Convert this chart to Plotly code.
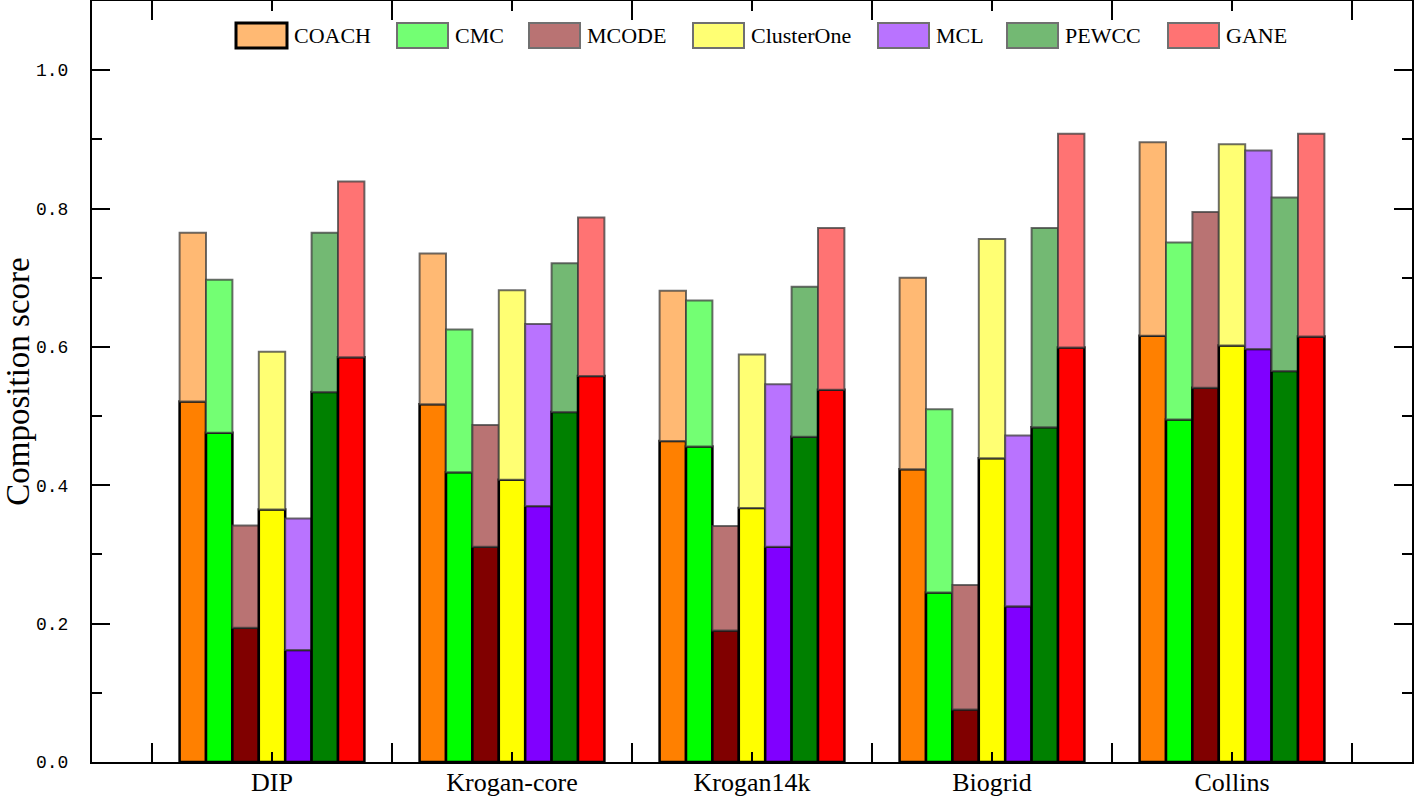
import numpy as np
import plotly.graph_objects as go

categories = ["DIP", "Krogan-core", "Krogan14k", "Biogrid", "Collins"]
methods = ["COACH", "CMC", "MCODE", "ClusterOne", "MCL", "PEWCC", "GANE"]

# lower (solid) part of each bar
coach_low = [0.521, 0.517, 0.464, 0.423, 0.616]
cmc_low = [0.476, 0.419, 0.456, 0.245, 0.495]
mcode_low = [0.194, 0.311, 0.190, 0.076, 0.541]
clusterone_low = [0.365, 0.408, 0.367, 0.439, 0.602]
mcl_low = [0.162, 0.370, 0.311, 0.225, 0.597]
pewcc_low = [0.535, 0.506, 0.470, 0.484, 0.565]
gane_low = [0.585, 0.558, 0.538, 0.599, 0.615]

# total height of each bar (composition score)
coach_total = [0.765, 0.735, 0.681, 0.700, 0.896]
cmc_total = [0.697, 0.625, 0.667, 0.510, 0.751]
mcode_total = [0.342, 0.487, 0.341, 0.256, 0.795]
clusterone_total = [0.593, 0.682, 0.589, 0.756, 0.893]
mcl_total = [0.352, 0.633, 0.546, 0.472, 0.884]
pewcc_total = [0.765, 0.721, 0.687, 0.772, 0.816]
gane_total = [0.839, 0.787, 0.772, 0.908, 0.908]

y_ticks = [0.0, 0.2, 0.4, 0.6, 0.8, 1.0]

lows = [coach_low, cmc_low, mcode_low, clusterone_low, mcl_low, pewcc_low, gane_low]
totals = [coach_total, cmc_total, mcode_total, clusterone_total, mcl_total, pewcc_total, gane_total]

solid_colors = ["#FF8000", "#00FF00", "#800000", "#FFFF00", "#8000FF", "#008000", "#FF0000"]
light_colors = ["#FFB973", "#73FF73", "#B97373", "#FFFF73", "#B973FF", "#73B973", "#FF7373"]

W, H = 1414, 797
ML, MR, MT, MB = 92, 2, 1, 35

x_idx = list(range(len(categories)))
fig = go.Figure()
for i, m in enumerate(methods):
    low = np.array(lows[i])
    tot = np.array(totals[i])
    fig.add_trace(go.Bar(
        x=x_idx, y=low, name=m, offsetgroup=m,
        marker=dict(color=solid_colors[i], line=dict(color="black", width=2.5)),
        showlegend=False,
    ))
    fig.add_trace(go.Bar(
        x=x_idx, y=tot - low, base=low, name=m, offsetgroup=m,
        marker=dict(color=light_colors[i], line=dict(color="rgba(60,60,60,0.75)", width=2)),
        showlegend=False,
    ))

# custom legend (large swatches like the reference)
box_px = [236, 397, 529, 693, 878, 1007, 1168]
pw = W - ML - MR
ph = H - MT - MB
def px2x(px):
    return (px - ML) / pw
def py2y(py):
    return (H - MB - py) / ph

shapes = []
annotations = []
for i, m in enumerate(methods):
    x0 = box_px[i]
    shapes.append(dict(
        type="rect", xref="paper", yref="paper",
        x0=px2x(x0), x1=px2x(x0 + 51), y0=py2y(48), y1=py2y(23),
        fillcolor=light_colors[i],
        line=dict(color="black" if i == 0 else "#707070", width=3 if i == 0 else 2),
        layer="above",
    ))
    annotations.append(dict(
        xref="paper", yref="paper", x=px2x(x0 + 56), y=py2y(36),
        text=m, showarrow=False, xanchor="left", yanchor="middle",
        font=dict(family="Liberation Serif", size=22, color="black"),
    ))

fig.update_layout(
    width=W, height=H,
    margin=dict(l=ML, r=MR, t=MT, b=MB, autoexpand=False),
    paper_bgcolor="white", plot_bgcolor="white",
    barmode="group", bargap=0.23, bargroupgap=0,
    shapes=shapes, annotations=annotations,
    showlegend=False,
    font=dict(family="Liberation Serif", color="black"),
)
fig.update_xaxes(
    automargin=False,
    range=[-0.75, len(categories) - 0.25],
    tickmode="array", tickvals=x_idx, ticktext=categories,
    ticks="inside", ticklen=10, tickwidth=2, tickcolor="black",
    minor=dict(tickmode="array", tickvals=[v - 0.5 for v in x_idx] + [x_idx[-1] + 0.5],
               ticks="inside", ticklen=19, tickwidth=2, tickcolor="black"),
    showline=True, linecolor="black", linewidth=2, mirror="ticks",
    showgrid=False, zeroline=False,
    tickfont=dict(family="Liberation Serif", size=26, color="black"),
    ticklabelstandoff=-4,
)
fig.update_yaxes(
    automargin=False,
    range=[0, 1.1],
    tickmode="array", tickvals=y_ticks, ticktext=[f"{v:.1f}" for v in y_ticks],
    ticks="inside", ticklen=18, tickwidth=2, tickcolor="black",
    minor=dict(dtick=0.1, ticks="inside", ticklen=10, tickwidth=2, tickcolor="black"),
    showline=True, linecolor="black", linewidth=2, mirror="ticks",
    showgrid=False, zeroline=False,
    tickfont=dict(family="Liberation Mono", size=18, color="black"),
    ticklabelstandoff=18,
    title=dict(text="Composition score", font=dict(family="Liberation Serif", size=33, color="black"), standoff=0),
)

fig.write_html(
    "out.html",
    config={"displayModeBar": False},
    post_script="document.body.style.margin='0';document.body.style.overflow='hidden';",
)
